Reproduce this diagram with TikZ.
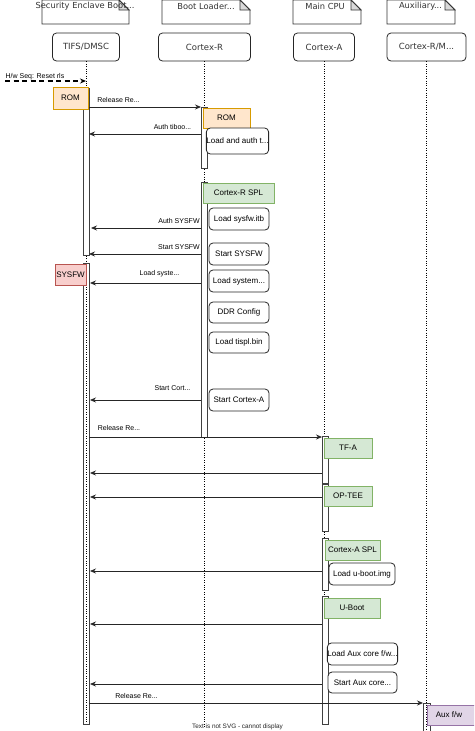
\documentclass[tikz,border=0pt]{standalone}
\usepackage{fontspec}
\setmainfont{Liberation Sans}
\newfontfamily\dejavu{DejaVu Sans}
\usetikzlibrary{arrows.meta}
\definecolor{romfill}{HTML}{FFE6CC}
\definecolor{romdraw}{HTML}{D79B00}
\definecolor{splfill}{HTML}{D5E8D4}
\definecolor{spldraw}{HTML}{82B366}
\definecolor{fwfill}{HTML}{F8CECC}
\definecolor{fwdraw}{HTML}{B85450}
\definecolor{auxfill}{HTML}{E1D5E7}
\definecolor{auxdraw}{HTML}{9673A6}
\definecolor{txtgray}{HTML}{333333}
\definecolor{foldgray}{HTML}{D9D9D9}
\begin{document}
\begin{tikzpicture}[x=1pt,y=-1pt,
  notebox/.style={draw=black!80,line width=0.8pt,fill=white},
  notefold/.style={draw=black!80,line width=0.8pt,fill=foldgray},
  notetxt/.style={inner sep=0pt,text=txtgray,font=\dejavu\fontsize{8.3}{10}\selectfont},
  lifebox/.style={draw=black!85,line width=0.8pt,rounded corners=4pt,fill=white,minimum height=28pt,inner sep=0pt,text=txtgray,font=\dejavu\fontsize{8.5}{10}\selectfont},
  lifeline/.style={draw=black,line width=1pt,dash pattern=on 1pt off 1.4pt},
  actbar/.style={draw=black!75,line width=0.8pt,fill=white,minimum width=6pt,inner sep=0pt},
  openbar/.style={draw=black!75,line width=0.8pt,minimum width=6pt,inner sep=0pt},
  tagbox/.style={line width=0.8pt,minimum height=20pt,inner sep=0pt,font=\fontsize{8}{9}\selectfont},
  rombox/.style={tagbox,draw=romdraw,fill=romfill},
  splbox/.style={tagbox,draw=spldraw,fill=splfill},
  fwbox/.style={tagbox,draw=fwdraw,fill=fwfill},
  auxbox/.style={tagbox,draw=auxdraw,fill=auxfill},
  procbox/.style={draw=black!85,line width=0.8pt,rounded corners=4pt,fill=white,minimum width=60pt,minimum height=22pt,inner sep=0pt,font=\fontsize{8}{9}\selectfont},
  msg/.style={draw=black!85,line width=0.8pt,-{Stealth[length=6pt,width=5pt]}},
  hwmsg/.style={draw=black,line width=1.3pt,dash pattern=on 5pt off 3.5pt,-{Stealth[length=6pt,width=5pt]}},
  lbl/.style={inner sep=0pt,font=\fontsize{7}{8}\selectfont},
  foot/.style={inner sep=0pt,text=black!85,font=\fontsize{6.4}{7}\selectfont}
]
\useasboundingbox (0,0) rectangle (474,731);
\begin{scope}
\clip (0,0) rectangle (474,731);
\fill[white] (0,0) rectangle (474,731);

% top notes
\draw[notebox] (42,0) -- (119,0) -- (129,10) -- (129,24) -- (42,24) -- cycle;
\draw[notefold] (119,0) -- (119,10) -- (129,10) -- cycle;
\draw[notebox] (162,0) -- (240,0) -- (250,10) -- (250,24) -- (162,24) -- cycle;
\draw[notefold] (240,0) -- (240,10) -- (250,10) -- cycle;
\draw[notebox] (293,0) -- (351,0) -- (361,10) -- (361,24) -- (293,24) -- cycle;
\draw[notefold] (351,0) -- (351,10) -- (361,10) -- cycle;
\draw[notebox] (387,0) -- (445,0) -- (455,10) -- (455,24) -- (387,24) -- cycle;
\draw[notefold] (445,0) -- (445,10) -- (455,10) -- cycle;
\node[notetxt] (n1) at (85,6) {Security Enclave Boot...};
\node[notetxt] (n2) at (206,6) {Boot Loader...};
\node[notetxt] (n3) at (325,6) {Main CPU};
\node[notetxt] (n4) at (420.5,6) {Auxiliary...};

% lifeline heads
\node[lifebox,minimum width=67pt] (tifs) at (86,47) {TIFS/DMSC};
\node[lifebox,minimum width=92pt] (cr) at (204.5,47) {Cortex-R};
\node[lifebox,minimum width=61pt] (ca) at (324,47) {Cortex-A};
\node[lifebox,minimum width=79pt] (aux) at (426.5,47) {Cortex-R/M...};

% lifeline ends
\coordinate (tifsE) at (86,724);
\coordinate (crE) at (204.5,728);
\coordinate (caE) at (324,724);
\coordinate (auxE) at (426.5,731);
\draw[lifeline] (tifs.south) -- (tifsE);
\draw[lifeline] (cr.south) -- (crE);
\draw[lifeline] (ca.south) -- (caE);
\draw[lifeline] (aux.south) -- (auxE);

% activation bars
\node[actbar,minimum height=167pt] (tb1) at (86,171.5) {};
\node[openbar,minimum height=461pt] (tb2) at (86,493.5) {};
\node[actbar,minimum height=61pt] (rb1) at (204,137.5) {};
\node[actbar,minimum height=255pt] (rb2) at (204,309.5) {};
\node[actbar,minimum height=47pt] (ab1) at (325,459.5) {};
\node[actbar,minimum height=47pt] (ab2) at (325,507.5) {};
\node[actbar,minimum height=52pt] (ab3) at (325.5,564) {};
\node[actbar,minimum height=128pt] (ab4) at (325.5,660) {};
\node[openbar,minimum width=7pt,minimum height=42pt] (xb1) at (426.5,724) {};

% coloured tag boxes
\node[rombox,minimum width=35pt,minimum height=22pt] (rom1) at (70.5,98) {ROM};
\node[rombox,minimum width=47pt] (rom2) at (226.5,118) {ROM};
\node[splbox,minimum width=71pt] (rspl) at (238.5,193) {Cortex-R SPL};
\node[fwbox,minimum width=31pt,minimum height=21pt] (sysfw) at (70.5,274.5) {SYSFW};
\node[splbox,minimum width=48pt] (tfa) at (348,448) {TF-A};
\node[splbox,minimum width=48pt] (optee) at (348,496) {OP-TEE};
\node[splbox,minimum width=55pt] (aspl) at (352.5,550) {Cortex-A SPL};
\node[splbox,minimum width=56pt] (uboot) at (352,608) {U-Boot};
\node[auxbox,minimum width=54pt] (auxfw) at (454,715) {};
\node[inner sep=0pt,font=\fontsize{8}{9}\selectfont] (auxfwt) at (449,715) {Aux f/w};

% process boxes
\node[procbox,minimum width=61pt,minimum height=26pt] (lat) at (237.5,141) {Load and auth t...};
\node[procbox] (lsys) at (239,219) {Load sysfw.itb};
\node[procbox] (ssys) at (239,254) {Start SYSFW};
\node[procbox] (lsystem) at (239,281) {Load system...};
\node[procbox,minimum height=21pt] (ddr) at (239,312.5) {DDR Config};
\node[procbox,minimum height=21pt] (ltispl) at (239,342.5) {Load tispl.bin};
\node[procbox] (sca) at (239,400) {Start Cortex-A};
\node[procbox,minimum width=66pt] (luboot) at (362,574) {Load u-boot.img};
\node[procbox,minimum width=69pt] (laux) at (362.5,654) {Load Aux core f/w...};
\node[procbox,minimum width=69pt,minimum height=21pt] (saux) at (362.5,682.5) {Start Aux core...};

% message end points
\coordinate (hwS) at (5,81);   \coordinate (hwE) at (86,81);
\coordinate (m1S) at (89,107); \coordinate (m1E) at (201,107);
\coordinate (m2S) at (201,134); \coordinate (m2E) at (89,134);
\coordinate (m3S) at (201,228); \coordinate (m3E) at (91,228);
\coordinate (m4S) at (201,254); \coordinate (m4E) at (89,254);
\coordinate (m5S) at (201,283); \coordinate (m5E) at (90,283);
\coordinate (m6S) at (201,400); \coordinate (m6E) at (90,400);
\coordinate (m7S) at (89,437); \coordinate (m7E) at (322,437);
\coordinate (m8S) at (322,473); \coordinate (m8E) at (90,473);
\coordinate (m9S) at (322,497); \coordinate (m9E) at (90,497);
\coordinate (m10S) at (322,571); \coordinate (m10E) at (90,571);
\coordinate (m11S) at (322,624); \coordinate (m11E) at (90,624);
\coordinate (m12S) at (322,684); \coordinate (m12E) at (90,684);
\coordinate (m13S) at (89,703); \coordinate (m13E) at (423,703);

\draw[hwmsg] (hwS) -- (hwE);
\draw[msg] (m1S) -- (m1E);
\draw[msg] (m2S) -- (m2E);
\draw[msg] (m3S) -- (m3E);
\draw[msg] (m4S) -- (m4E);
\draw[msg] (m5S) -- (m5E);
\draw[msg] (m6S) -- (m6E);
\draw[msg] (m7S) -- (m7E);
\draw[msg] (m8S) -- (m8E);
\draw[msg] (m9S) -- (m9E);
\draw[msg] (m10S) -- (m10E);
\draw[msg] (m11S) -- (m11E);
\draw[msg] (m12S) -- (m12E);
\draw[msg] (m13S) -- (m13E);

% labels
\node[lbl] (lhw) at (35,77) {H/w Seq: Reset rls};
\node[lbl] (l1) at (118.5,100) {Release Re...};
\node[lbl] (l2) at (172.5,127) {Auth tiboo...};
\node[lbl] (l3) at (179,221) {Auth SYSFW};
\node[lbl] (l4) at (179,247) {Start SYSFW};
\node[lbl] (l5) at (159.5,274) {Load syste...};
\node[lbl] (l6) at (172.5,388) {Start Cort...};
\node[lbl] (l7) at (119,428) {Release Re...};
\node[lbl] (l13) at (136.5,696) {Release Re...};

\node[foot] (ft) at (237.5,726.5) {Text is not SVG - cannot display};
\end{scope}
\end{tikzpicture}
\end{document}
